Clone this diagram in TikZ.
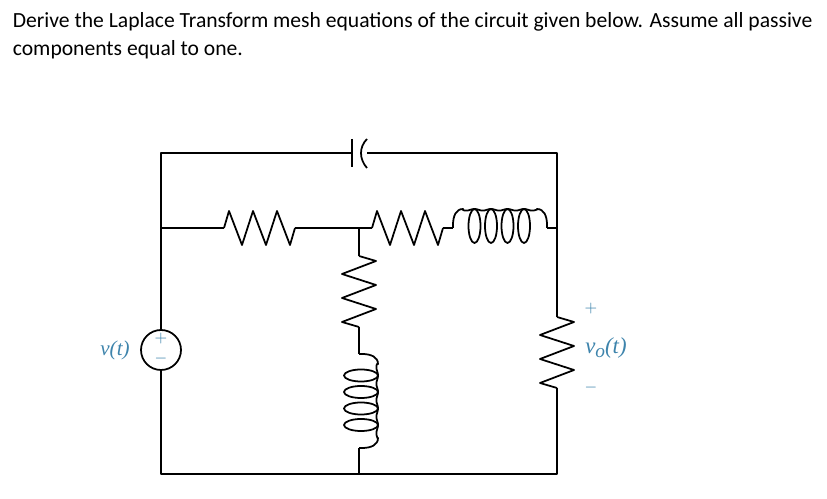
\documentclass[tikz,border=0pt]{standalone}
\usepackage{fontspec}
\usetikzlibrary{calc}
\setmainfont{Carlito}
\newfontfamily\labelfont{Liberation Serif}
\definecolor{labelblue}{RGB}{62,132,172}

\tikzset{
	res/.pic={\draw (0,0)--(5,17)--(18,-17)--(29,17)--(42,-17)--(53,17)--(66,-17)--(71,0);},
	coil/.pic={
		\draw (0,0)--(0,3) .. controls (0,12) and (3,19) .. (10,19)
			--plot[domain=10:84,samples=60] (\x,{18.2+0.8*cos(21.82*(\x-21.5))})
			--(84,19) .. controls (91,19) and (94,12) .. (94,3)--(94,0);
		\foreach \c in {21.5,38,54.5,71}
			\draw (\c,2) ellipse (6 and 17);
	},
	lab/.style={inner sep=0pt,text=labelblue,font=\labelfont\fontsize{12}{14}\selectfont},
	sgn/.style={inner sep=0pt,text=labelblue,font=\fontsize{9.5}{9.5}\selectfont},
}

\begin{document}
\begin{tikzpicture}[x=0.02cm, y=0.02cm, line width=1pt, line join=round]

\useasboundingbox (0,0) rectangle (827,499);

\node[anchor=north west,inner sep=0pt,align=left,font=\fontsize{12.3}{16}\selectfont] (task) at (12,487)
	{Derive the Laplace Transform mesh equations of the circuit given below. Assume all passive\\components equal to one.};

% corners and junctions
\coordinate (tl) at (161,346);
\coordinate (tr) at (557,346);
\coordinate (ml) at (161,271);
\coordinate (mm) at (359,271);
\coordinate (mr) at (557,271);
\coordinate (bl) at (161,25);
\coordinate (bm) at (359,25);
\coordinate (br) at (557,25);

% capacitor
\coordinate (capa) at (352,346);
\coordinate (capb) at (367,346);
\draw ($(capa)+(0,14)$)--($(capa)+(0,-14)$);
\draw ($(capb)+(0,14)$) .. controls ($(capb)+(-8,6)$) and ($(capb)+(-8,-6)$) .. ($(capb)+(0,-15)$);

% end points of the other components
\coordinate (ra) at (224,271);
\coordinate (rb) at (295,271);
\coordinate (rc) at (372,271);
\coordinate (rd) at (443,271);
\coordinate (la) at (453,271);
\coordinate (lb) at (547,271);
\coordinate (re) at (359,243);
\coordinate (rf) at (359,172);
\coordinate (lc) at (359,145);
\coordinate (ld) at (359,51);
\coordinate (rg) at (557,182);
\coordinate (rh) at (557,111);

\path (ra) pic {res};
\path (rc) pic {res};
\path (la) pic {coil};
\path (re) pic[rotate=-90] {res};
\path (lc) pic[rotate=-90] {coil};
\path (rg) pic[rotate=-90] {res};

% source
\node[circle,draw,inner sep=0pt,minimum size=0.8cm] (src) at (161,149) {};
\node[sgn] (srcp) at (161,160) {$+$};
\node[sgn] (srcm) at (161,140) {$-$};

% wires
\draw (src)--(ml)--(tl)--(capa);
\draw (capb)--(tr)--(mr)--(lb);
\draw (ml)--(ra);
\draw (rb)--(mm)--(rc);
\draw (rd)--(la);
\draw (mm)--(re);
\draw (rf)--(lc);
\draw (ld)--(bm);
\draw (mr)--(rg);
\draw (rh)--(br)--(bl)--(src);

% labels
\node[lab] (vin) at (115,149) {\itshape v(t)};
\node[sgn] (vop) at (591,190) {$+$};
\node[lab,font=\labelfont\fontsize{13}{14}\selectfont] (vo) at (606,151) {\itshape v\raisebox{-2.5pt}{\fontsize{11}{11}\selectfont o}(t)};
\node[sgn] (vom) at (591,111) {$-$};

\end{tikzpicture}
\end{document}
